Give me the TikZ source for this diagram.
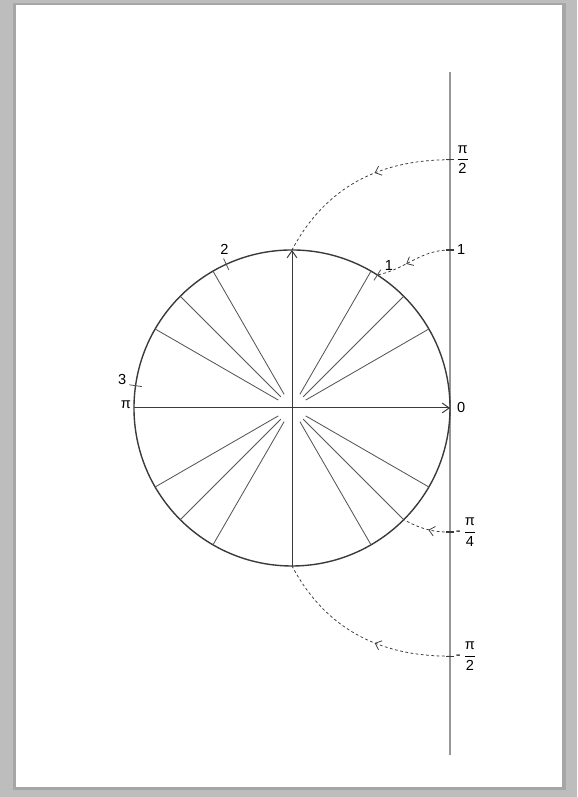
\documentclass[tikz,border=0pt]{standalone}
\usepackage{amsmath}
\usepackage{fontspec}
\setmainfont{Liberation Sans}
\usetikzlibrary{positioning}
\usetikzlibrary{arrows.meta}
\usetikzlibrary{decorations.markings}

\definecolor{pagegray}{HTML}{BDBDBD}
\definecolor{edgegray}{HTML}{A6A6A6}
\definecolor{inkgray}{HTML}{3A3A3A}
\definecolor{raygray}{HTML}{555555}
\definecolor{axisgray}{HTML}{979797}

\tikzset{
  circline/.style={color=inkgray, line width=1pt},
  diam/.style={color=inkgray, line width=0.7pt, -{Straight Barb[length=5pt,width=7pt]}},
  ray/.style={color=raygray, line width=0.6pt},
  axisline/.style={color=axisgray, line width=1.4pt},
  axtick/.style={color=inkgray, line width=0.9pt},
  wrapline/.style={color=inkgray, line width=0.55pt, dash pattern=on 2pt off 1.8pt,
    postaction={decorate}, decoration={markings,
      mark=at position #1 with {\arrow[solid]{Straight Barb[length=4pt,width=7pt]}}}},
  lbl/.style={inner sep=1pt, font=\fontsize{10.5}{12}\selectfont}
}

\begin{document}
\begin{tikzpicture}[x=4cm,y=4cm]
\useasboundingbox (-1.848,-2.462) rectangle (1.804,2.582);
\fill[pagegray] (-1.848,-2.462) rectangle (1.804,2.582);
\fill[edgegray] (-1.766,-2.418) rectangle (1.734,2.563);
\fill[white] (-1.747,-2.399) rectangle (1.709,2.551);

\draw[axisline] (1,2.127) -- (1,-2.196);

\coordinate (t0) at (1,0);
\coordinate (t1) at (1,1);
\coordinate (tph) at (1,1.5708);
\coordinate (tmq) at (1,-0.7854);
\coordinate (tmh) at (1,-1.5708);
\coordinate (cone) at ({deg(1)}:1);
\coordinate (ctop) at (0,1);
\coordinate (cbot) at (0,-1);
\coordinate (cmq) at (-45:1);
\coordinate (cleft) at (-1,0);

\draw[circline] (0,0) circle (1);
\foreach \a in {30,45,60,120,135,150,210,225,240,300,315,330}
  \draw[ray] (\a:0.1) -- (\a:1);
\draw[diam] (cleft) -- (t0);
\draw[diam] (cbot) -- (ctop);

\foreach \t in {1,2,3} {
  \draw[ray] ({deg(\t)}:0.96) -- ({deg(\t)}:1.04);
  \node[lbl] at ({deg(\t)-1.5}:1.09) {\t};
}
\node[lbl, left=1pt of cleft, yshift=2pt] {π};

\foreach \p in {t1,tph,tmq,tmh}
  \draw[axtick] (\p) ++(-0.025,0) -- ++(0.05,0);

\node[lbl, right=4pt of t0] {0};
\node[lbl, right=4pt of t1] {1};
\node[lbl, right=3pt of tph] {$\dfrac{\text{π}}{\text{2}}$};
\node[lbl, right=3pt of tmq] {$\text{-}\,\dfrac{\text{π}}{\text{4}}$};
\node[lbl, right=3pt of tmh] {$\text{-}\,\dfrac{\text{π}}{\text{2}}$};

\draw[wrapline=0.4] (tph) to[out=180, in=62] (ctop);
\draw[wrapline=0.6] (t1) to[out=180, in=12] (cone);
\draw[wrapline=0.45] (tmq) to[out=180, in=-28] (cmq);
\draw[wrapline=0.4] (tmh) to[out=180, in=-62] (cbot);
\end{tikzpicture}
\end{document}
